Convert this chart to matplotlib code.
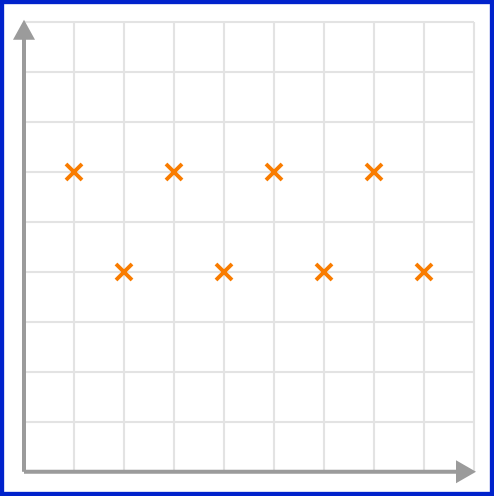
import matplotlib
matplotlib.use("Agg")
import matplotlib.pyplot as plt
from matplotlib.patches import FancyArrow, Rectangle

x_values = [1, 2, 3, 4, 5, 6, 7, 8]
y_values = [6, 4, 6, 4, 6, 4, 6, 4]
grid_max = 9

fig = plt.figure(figsize=(4.94, 4.96), dpi=100)
ax = fig.add_axes([0, 0, 1, 1])
ax.set_xlim(-0.48, 9.40)
ax.set_ylim(-0.485, 9.435)
ax.axis("off")

grid_color = "#e3e3e3"
ticks = list(range(0, grid_max + 1))
ax.vlines(ticks, 0, grid_max, colors=grid_color, linewidth=1.5, zorder=1)
ax.hlines(ticks, 0, grid_max, colors=grid_color, linewidth=1.5, zorder=1)

axis_color = "#9b9b9b"
ax.add_patch(FancyArrow(0, 0, 0, 9.04, width=0.08, head_width=0.44, head_length=0.40,
                        length_includes_head=True, color=axis_color, zorder=2, linewidth=0))
ax.add_patch(FancyArrow(0, 0, 9.04, 0, width=0.08, head_width=0.46, head_length=0.40,
                        length_includes_head=True, color=axis_color, zorder=2, linewidth=0))

ax.plot(x_values, y_values, linestyle="none", marker="x", markersize=11.5,
        markeredgewidth=2.8, color="#f97c00", zorder=3)

fig.patches.append(Rectangle((0, 0), 1, 1, transform=fig.transFigure, fill=False,
                             edgecolor="#0022cc", linewidth=6, zorder=10))

fig.savefig("out.png", dpi=100)
